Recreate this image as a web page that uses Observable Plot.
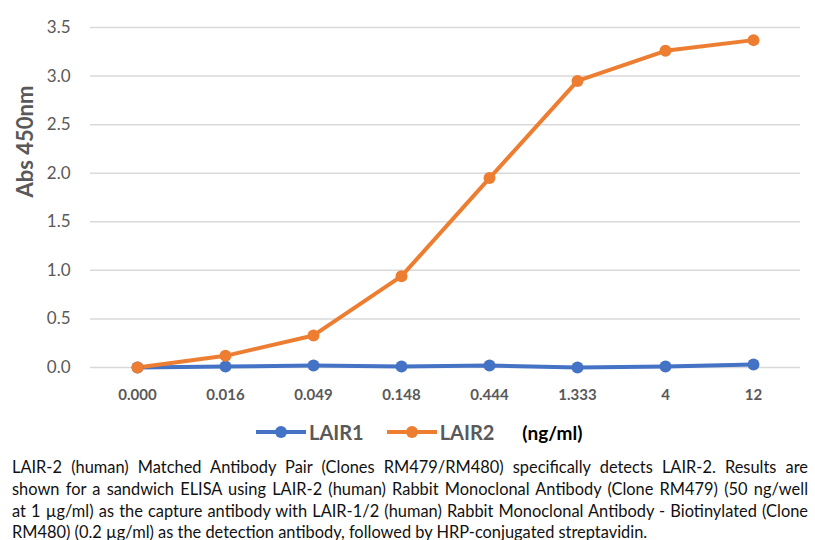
<!DOCTYPE html>
<html>
<head>
<meta charset="utf-8">
<script src="https://cdn.jsdelivr.net/npm/d3@7"></script>
<script src="https://cdn.jsdelivr.net/npm/@observablehq/plot@0.6"></script>
<style>
  html, body { margin: 0; padding: 0; background: #fff; }
  body { width: 815px; font-family: Lato, "Open Sans", sans-serif; }
  #legend { display: flex; align-items: center; justify-content: flex-start; height: 36px; margin-top: 4px; padding-left: 255px; font-size: 20px; font-weight: bold; color: #595959; }
  #legend .item { display: flex; align-items: center; margin-right: 22px; }
  #legend .unit { color: #000; font-weight: bold; font-size: 19px; margin-left: 6px; }
  #caption { font-size: 16.4px; line-height: 21.8px; color: #111; padding: 6px 7px 0 12px; margin: 0; }
  #caption .ln { text-align: justify; text-align-last: justify; white-space: nowrap; }
  #caption .ln.last { text-align-last: left; }
</style>
</head>
<body>
<div id="chart"></div>
<div id="legend"></div>
<div id="caption"></div>
<script>
const doses = ["0.000", "0.016", "0.049", "0.148", "0.444", "1.333", "4", "12"];
const lair1 = [0.00, 0.01, 0.02, 0.01, 0.02, 0.00, 0.01, 0.03];
const lair2 = [0.00, 0.12, 0.33, 0.94, 1.95, 2.95, 3.26, 3.37];
const yTicks = [0, 0.5, 1.0, 1.5, 2.0, 2.5, 3.0, 3.5];
const seriesNames = ["LAIR1", "LAIR2"];
const seriesColors = ["#4472C4", "#ED7D31"];
const captionLines = [
  "LAIR-2 (human) Matched Antibody Pair (Clones RM479/RM480) specifically detects LAIR-2. Results are",
  "shown for a sandwich ELISA using LAIR-2 (human) Rabbit Monoclonal Antibody (Clone RM479) (50 ng/well",
  "at 1 µg/ml) as the capture antibody with LAIR-1/2 (human) Rabbit Monoclonal Antibody - Biotinylated (Clone",
  "RM480) (0.2 µg/ml) as the detection antibody, followed by HRP-conjugated streptavidin."
];

const rows = [];
doses.forEach((d, i) => {
  rows.push({dose: d, value: lair1[i], series: seriesNames[0]});
  rows.push({dose: d, value: lair2[i], series: seriesNames[1]});
});

const chart = Plot.plot({
  width: 815,
  height: 410,
  marginLeft: 90,
  marginRight: 15,
  marginTop: 27,
  marginBottom: 43,
  style: {fontFamily: "Lato, 'Open Sans', sans-serif", background: "#fff"},
  x: {type: "point", domain: doses, padding: 0.5, label: null},
  y: {domain: [0, 3.5], label: null},
  color: {domain: seriesNames, range: seriesColors},
  marks: [
    Plot.gridY(yTicks, {stroke: "#d9d9d9", strokeOpacity: 1, strokeWidth: 1.5}),
    Plot.axisY(yTicks, {tickSize: 0, tickPadding: 20, tickFormat: d3.format(".1f"), fontSize: 17, fill: "#595959", label: null}),
    Plot.text(["Abs 450nm"], {frameAnchor: "left", dx: -65, rotate: -90, fontSize: 22, fontWeight: "bold", fill: "#595959"}),
    Plot.axisX({tickSize: 0, tickPadding: 22, fontSize: 15, fontWeight: "bold", fill: "#595959", label: null}),
    Plot.line(rows, {x: "dose", y: "value", z: "series", stroke: "series", strokeWidth: 4}),
    Plot.dot(rows, {x: "dose", y: "value", fill: "series", r: 6})
  ]
});
document.getElementById("chart").appendChild(chart);

const legend = document.getElementById("legend");
seriesNames.forEach((name, i) => {
  const item = document.createElement("div");
  item.className = "item";
  item.innerHTML = `<svg width="52" height="16"><line x1="1" y1="8" x2="51" y2="8" stroke="${seriesColors[i]}" stroke-width="4"/><circle cx="26" cy="8" r="6" fill="${seriesColors[i]}"/></svg><span style="margin-left:2px">${name}</span>`;
  legend.appendChild(item);
});
const unit = document.createElement("span");
unit.className = "unit";
unit.textContent = "(ng/ml)";
legend.appendChild(unit);

const caption = document.getElementById("caption");
captionLines.forEach((t, i) => {
  const d = document.createElement("div");
  d.className = "ln" + (i === captionLines.length - 1 ? " last" : "");
  d.textContent = t;
  caption.appendChild(d);
});
</script>
</body>
</html>
